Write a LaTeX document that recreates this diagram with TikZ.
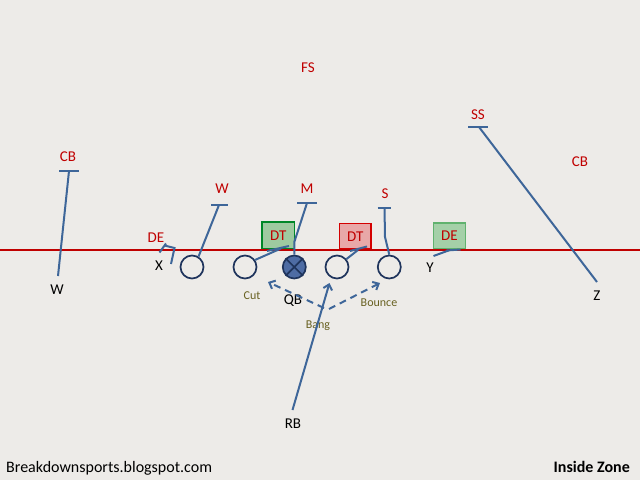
\documentclass[tikz,border=0pt]{standalone}
\usepackage{fontspec}
\setmainfont{Carlito}
\usetikzlibrary{arrows.meta}
\definecolor{bg}{RGB}{237,235,232}
\definecolor{rline}{RGB}{192,0,0}
\definecolor{rtxt}{RGB}{192,0,0}
\definecolor{route}{RGB}{62,102,153}
\definecolor{navy}{RGB}{31,52,92}
\definecolor{cfill}{RGB}{78,108,164}
\definecolor{olive}{RGB}{104,96,32}
\definecolor{gfill}{RGB}{158,202,160}
\definecolor{gdraw}{RGB}{0,135,40}
\definecolor{rfill}{RGB}{232,168,168}
\definecolor{rdraw}{RGB}{212,0,0}
\definecolor{dfill}{RGB}{164,208,168}
\definecolor{ddraw}{RGB}{96,178,110}
\begin{document}
\begin{tikzpicture}[x=1pt,y=-1pt,
  lbl/.style={inner sep=0pt,anchor=base,yshift=-4.85pt,font=\fontsize{15}{17}\selectfont},
  dlbl/.style={lbl,text=rtxt},
  olbl/.style={inner sep=0pt,anchor=base,yshift=-3.85pt,text=olive,font=\fontsize{12}{14}\selectfont},
  player/.style={circle,draw=navy,line width=1.7pt,minimum size=23pt,inner sep=0pt},
  rt/.style={draw=route,line width=2pt},
  bar/.style={draw=route,line width=2pt},
  darr/.style={draw=route,line width=2pt,dash pattern=on 7pt off 5pt,-{Straight Barb[length=5pt,width=9pt]}},
  sarr/.style={draw=route,line width=2pt,-{Straight Barb[length=5pt,width=9pt]}},
  box/.style={line width=1.9pt}]
\fill[bg] (0,0) rectangle (640,480);
\useasboundingbox (0,0) rectangle (640,480);
% defensive boxes
\filldraw[box,fill=gfill,draw=gdraw] (262,222) rectangle (294.5,249);
\filldraw[box,fill=rfill,draw=rdraw] (339.5,223.5) rectangle (371,249);
\filldraw[box,fill=dfill,draw=ddraw] (433.5,223) rectangle (465.5,249);
\node[dlbl] (dtl) at (278.2,235.5) {DT};
\node[dlbl] (dtr) at (355.2,236.5) {DT};
\node[dlbl] (der) at (449.5,236) {DE};
% line of scrimmage
\draw[rline,line width=2.6pt] (0,250) -- (640,250);
% defensive labels
\node[dlbl] (fs) at (308,68) {FS};
\node[dlbl] (ss) at (478,115) {SS};
\node[dlbl] (cbr) at (580,162) {CB};
\node[dlbl] (cbl) at (68,157) {CB};
\node[dlbl] (wlb) at (222,189) {W};
\node[dlbl] (mlb) at (307,189) {M};
\node[dlbl] (slb) at (385,194) {S};
\node[dlbl] (del) at (156,237.5) {DE};
% offensive labels
\node[lbl] (xr) at (159,266) {X};
\node[lbl] (wr) at (57,290) {W};
\node[lbl] (zr) at (597,296) {Z};
\node[lbl] (yr) at (430,268) {Y};
\node[lbl] (qb) at (293,300) {QB};
\node[lbl] (rb) at (293,424) {RB};
\node[olbl] (cut) at (252,296) {Cut};
\node[olbl] (bounce) at (379,303) {Bounce};
\node[olbl] (bang) at (318,325) {Bang};
% players
\node[player] (lt) at (192,267) {};
\node[player] (lg) at (245,267) {};
\node[player,fill=cfill] (c) at (294.3,267) {};
\draw[navy,line width=1.7pt] (c.north west) -- (c.south east) (c.north east) -- (c.south west);
\node[player] (rg) at (337,267) {};
\node[player] (te) at (389.3,267) {};
% route coordinates
\coordinate (cblA) at (59,171); \coordinate (cblB) at (79,171); \coordinate (cblM) at (69,171); \coordinate (wrE) at (58,276);
\coordinate (ssA) at (468,127); \coordinate (ssB) at (488,127); \coordinate (ssM) at (479,127); \coordinate (zrE) at (597,282);
\coordinate (wA) at (211,205); \coordinate (wB) at (228,205); \coordinate (wM) at (219,205);
\coordinate (mA) at (297,203); \coordinate (mB) at (317,203); \coordinate (mM) at (307,203); \coordinate (mK) at (294.3,242);
\coordinate (sA) at (377.5,207.5); \coordinate (sB) at (391,207.5); \coordinate (sM) at (384.5,207.5); \coordinate (sK) at (385,237);
\coordinate (xS) at (171,264); \coordinate (xK) at (174.5,248); \coordinate (xE) at (164.5,245.5);
\coordinate (xbA) at (159.5,252.5); \coordinate (xbB) at (166,243.5);
\coordinate (lgE) at (281,248.5); \coordinate (lgbA) at (267,251); \coordinate (lgbB) at (289,246);
\coordinate (rgE) at (358,250); \coordinate (rgbA) at (350,251); \coordinate (rgbB) at (367,246.5);
\coordinate (yS) at (433.5,256); \coordinate (yE) at (448.5,250.5); \coordinate (ybA) at (446.5,250.5); \coordinate (ybB) at (460.5,249.5);
\coordinate (rbS) at (292.5,410); \coordinate (rbE) at (329.5,283);
\coordinate (dV1) at (324,308); \coordinate (dV2) at (329,309);
\coordinate (dL) at (268,282); \coordinate (dR) at (380,283);
% routes and blocks
\draw[bar] (cblA) -- (cblB); \draw[rt] (cblM) -- (wrE);
\draw[bar] (ssA) -- (ssB); \draw[rt] (ssM) -- (zrE);
\draw[bar] (wA) -- (wB); \draw[rt] (wM) -- (lt.58);
\draw[bar] (mA) -- (mB); \draw[rt] (mM) -- (mK) -- (c.north);
\draw[bar] (sA) -- (sB); \draw[rt] (sM) -- (sK) -- (te.north);
\draw[rt] (xS) -- (xK) -- (xE); \draw[bar] (xbA) -- (xbB);
\draw[rt] (lg.35) -- (lgE); \draw[bar] (lgbA) -- (lgbB);
\draw[rt] (rg.40) -- (rgE); \draw[bar] (rgbA) -- (rgbB);
\draw[rt] (yS) -- (yE); \draw[bar] (ybA) -- (ybB);
% running back paths
\draw[sarr] (rbS) -- (rbE);
\draw[darr] (dV1) -- (dL);
\draw[darr] (dV2) -- (dR);
% footer
\node[inner sep=0pt,anchor=base west,font=\fontsize{16}{18}\selectfont] (site) at (6,472) {Breakdownsports.blogspot.com};
\node[inner sep=0pt,anchor=base east,font=\bfseries\fontsize{16}{18}\selectfont] (title) at (630,472.5) {Inside Zone};
\end{tikzpicture}
\end{document}
